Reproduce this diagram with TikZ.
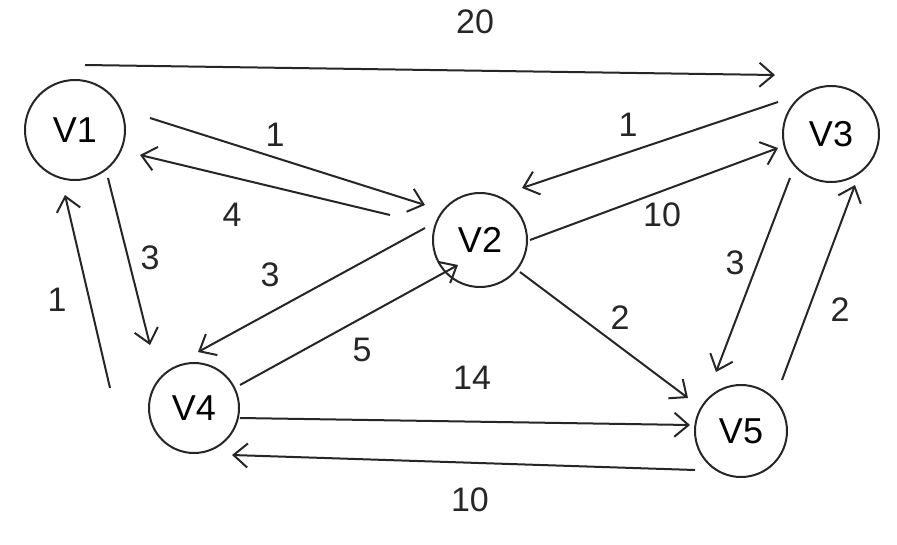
\documentclass[tikz,border=0pt]{standalone}
\usepackage{fontspec}
\setmainfont{Liberation Sans}
\usetikzlibrary{arrows.meta,calc}
\begin{document}
\begin{tikzpicture}[x=1pt,y=-1pt,
  vert/.style={circle,draw=black!85,line width=2pt,inner sep=0pt,font=\fontsize{36}{38}\selectfont},
  edge/.style={draw=black!85,line width=2pt,-{Straight Barb[length=14pt,width=24pt,line width=2pt]}},
  wt/.style={font=\fontsize{34}{36}\selectfont,text=black!85}]
\useasboundingbox[fill=white] (0,0) rectangle (897,544);
\node[vert,minimum size=100pt] (v1) at (75,130) {V1};
\node[vert,minimum size=94pt] (v2) at (480,240) {V2};
\node[vert,minimum size=96pt] (v3) at (831,134) {V3};
\node[vert,minimum size=90pt] (v4) at (194,408) {V4};
\node[vert,minimum size=92pt] (v5) at (741,431) {V5};
% edges
\draw[edge] ($(v1)+(10,-65)$) -- ($(v3)+(-56,-59)$);
\draw[edge] ($(v1)+(75,-12)$) -- ($(v2)+(-55,-35)$);
\draw[edge] ($(v2)+(-90,-25)$) -- ($(v1)+(65,25)$);
\draw[edge] ($(v1)+(33,48)$) -- ($(v4)+(-44,-63)$);
\draw[edge] ($(v4)+(-84,-20)$) -- ($(v1)+(-10,65)$);
\draw[edge] ($(v2)+(-55,-12)$) -- ($(v4)+(4,-56)$);
\draw[edge] ($(v4)+(46,-23)$) -- ($(v2)+(-22,25)$);
\draw[edge] ($(v3)+(-53,-32)$) -- ($(v2)+(42,-52)$);
\draw[edge] ($(v2)+(50,0)$) -- ($(v3)+(-53,14)$);
\draw[edge] ($(v2)+(40,32)$) -- ($(v5)+(-53,-33)$);
\draw[edge] ($(v3)+(-41,44)$) -- ($(v5)+(-25,-59)$);
\draw[edge] ($(v5)+(41,-51)$) -- ($(v3)+(24,51)$);
\draw[edge] ($(v4)+(46,10)$) -- ($(v5)+(-51,-6)$);
\draw[edge] ($(v5)+(-46,39)$) -- ($(v4)+(38,47)$);
% weights
\node[wt] (w13) at (475,22) {20};
\node[wt] (w12) at (275,135) {1};
\node[wt] (w21) at (232,215) {4};
\node[wt] (w14) at (150,258) {3};
\node[wt] (w41) at (57,300) {1};
\node[wt] (w24) at (270,275) {3};
\node[wt] (w42) at (362,350) {5};
\node[wt] (w32) at (628,125) {1};
\node[wt] (w23) at (662,215) {10};
\node[wt] (w25) at (620,318) {2};
\node[wt] (w35) at (735,263) {3};
\node[wt] (w53) at (840,310) {2};
\node[wt] (w45) at (472,378) {14};
\node[wt] (w54) at (470,500) {10};
\end{tikzpicture}
\end{document}
